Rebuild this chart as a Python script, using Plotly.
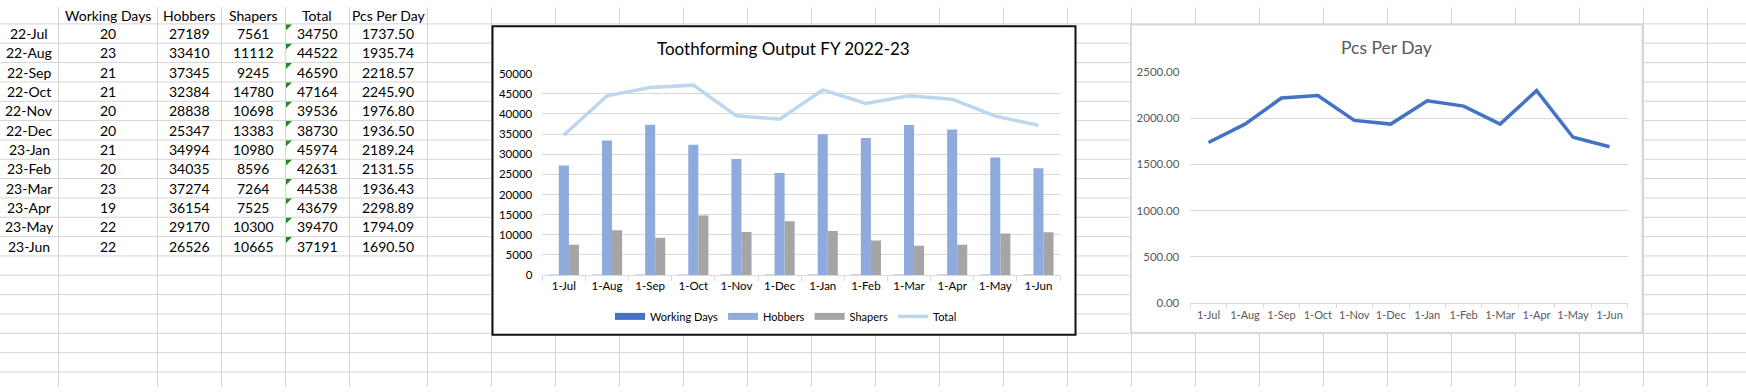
import plotly.graph_objects as go

# ---------------- data ----------------
row_labels = ["22-Jul", "22-Aug", "22-Sep", "22-Oct", "22-Nov", "22-Dec",
              "23-Jan", "23-Feb", "23-Mar", "23-Apr", "23-May", "23-Jun"]
months = ["1-Jul", "1-Aug", "1-Sep", "1-Oct", "1-Nov", "1-Dec",
          "1-Jan", "1-Feb", "1-Mar", "1-Apr", "1-May", "1-Jun"]
working_days = [20, 23, 21, 21, 20, 20, 21, 20, 23, 19, 22, 22]
hobbers = [27189, 33410, 37345, 32384, 28838, 25347, 34994, 34035, 37274, 36154, 29170, 26526]
shapers = [7561, 11112, 9245, 14780, 10698, 13383, 10980, 8596, 7264, 7525, 10300, 10665]
total = [34750, 44522, 46590, 47164, 39536, 38730, 45974, 42631, 44538, 43679, 39470, 37191]
pcs_per_day = [1737.50, 1935.74, 2218.57, 2245.90, 1976.80, 1936.50,
               2189.24, 2131.55, 1936.43, 2298.89, 1794.09, 1690.50]
headers = ["", "Working Days", "Hobbers", "Shapers", "Total", "Pcs Per Day"]

# ---------------- geometry helpers ----------------
W, H = 1746, 392
def px(x):
    return x / W
def py(y):
    return 1 - y / H

FONT = "Lato, Carlito, Calibri, sans-serif"
GRID = "#d4d4d4"

fig = go.Figure()

# ---------------- chart 1: bars + total line ----------------
fig.add_trace(go.Bar(x=months, y=working_days, name="Working Days",
                     marker=dict(color="#4472C4", line=dict(width=0)),
                     showlegend=False, xaxis="x", yaxis="y"))
fig.add_trace(go.Bar(x=months, y=hobbers, name="Hobbers",
                     marker=dict(color="#8FAADC", line=dict(width=0)),
                     showlegend=False, xaxis="x", yaxis="y"))
fig.add_trace(go.Bar(x=months, y=shapers, name="Shapers",
                     marker=dict(color="#A5A5A5", line=dict(width=0)),
                     showlegend=False, xaxis="x", yaxis="y"))
fig.add_trace(go.Scatter(x=months, y=total, name="Total", mode="lines",
                         line=dict(color="#BDD7EE", width=3.5),
                         showlegend=False, xaxis="x", yaxis="y"))

# legend entries (wide flat swatches like Excel)
for nm, col, wd in [("Working Days", "#4472C4", 7), ("Hobbers", "#8FAADC", 7),
                    ("Shapers", "#A5A5A5", 7), ("Total", "#BDD7EE", 3.5)]:
    fig.add_trace(go.Scatter(x=[None], y=[None], mode="lines", name=nm,
                             line=dict(color=col, width=wd),
                             xaxis="x", yaxis="y", hoverinfo="skip"))

# ---------------- chart 2: pcs per day ----------------
fig.add_trace(go.Scatter(x=months, y=pcs_per_day, name="Pcs Per Day", mode="lines",
                         line=dict(color="#4472C4", width=3.5),
                         showlegend=False, xaxis="x2", yaxis="y2"))

# ---------------- spreadsheet grid (decor) ----------------
shapes = []
col_lines = [58, 157, 221, 285, 349] + [427 + 64 * k for k in range(21)]
for cx in col_lines:
    shapes.append(dict(type="line", xref="paper", yref="paper", layer="below",
                       x0=px(cx + 0.5), x1=px(cx + 0.5), y0=0, y1=1,
                       line=dict(color=GRID, width=1)))
for k in range(19):
    ry = 17 + 20 * k
    shapes.append(dict(type="line", xref="paper", yref="paper", layer="below",
                       x0=0, x1=1, y0=py(ry + 0.5), y1=py(ry + 0.5),
                       line=dict(color=GRID, width=1)))

# green error triangles in Total column
for k in range(len(total)):
    top = 18 + 20 * k
    shapes.append(dict(type="path", xref="paper", yref="paper", layer="below",
                       path=f"M {px(286)} {py(top)} L {px(292)} {py(top)} L {px(286)} {py(top + 6)} Z",
                       fillcolor="#1E8C1E", line=dict(width=0)))

# chart 1 frame
shapes.append(dict(type="rect", xref="paper", yref="paper", layer="below",
                   x0=px(492.5), x1=px(1075.5), y0=py(339), y1=py(20),
                   fillcolor="white", line=dict(color="#111111", width=2)))
# chart 2 frame
shapes.append(dict(type="rect", xref="paper", yref="paper", layer="below",
                   x0=px(1131), x1=px(1642.5), y0=py(337), y1=py(18),
                   fillcolor="white", line=dict(color="#d9d9d9", width=2)))

# ---------------- table text ----------------
annotations = []
col_centers = [29, 107.5, 189, 253, 317, 388]
for c, htxt in enumerate(headers):
    if htxt:
        annotations.append(dict(text=htxt, x=px(col_centers[c]), y=py(9),
                                xref="paper", yref="paper", showarrow=False,
                                xanchor="center", yanchor="middle",
                                font=dict(family=FONT, size=14, color="#000000")))
for r in range(len(row_labels)):
    vals = [row_labels[r], str(working_days[r]), str(hobbers[r]), str(shapers[r]),
            str(total[r]), f"{pcs_per_day[r]:.2f}"]
    for c, v in enumerate(vals):
        annotations.append(dict(text=v, x=px(col_centers[c]), y=py(27.5 + 20 * r),
                                xref="paper", yref="paper", showarrow=False,
                                xanchor="center", yanchor="middle",
                                font=dict(family=FONT, size=14, color="#000000")))

# chart titles
annotations.append(dict(text="Toothforming Output FY 2022-23", x=px(783.5), y=py(42.5),
                        xref="paper", yref="paper", showarrow=False,
                        xanchor="center", yanchor="middle",
                        font=dict(family=FONT, size=17, color="#000000")))
annotations.append(dict(text="Pcs Per Day", x=px(1386.5), y=py(42),
                        xref="paper", yref="paper", showarrow=False,
                        xanchor="center", yanchor="middle",
                        font=dict(family=FONT, size=17.5, color="#595959")))

fig.update_layout(
    width=W, height=H,
    margin=dict(l=0, r=0, t=0, b=0),
    paper_bgcolor="white",
    plot_bgcolor="rgba(0,0,0,0)",
    font=dict(family=FONT, size=11.5, color="#000000"),
    barmode="group", bargap=0.3, bargroupgap=0,
    shapes=shapes, annotations=annotations,
    legend=dict(orientation="h", x=px(786), y=py(320), xanchor="center", yanchor="middle",
                font=dict(family=FONT, size=11, color="#000000"),
                bgcolor="rgba(0,0,0,0)", itemwidth=30, tracegroupgap=0),
    xaxis=dict(domain=[px(542.3), px(1060)], type="category", categoryorder="array",
               categoryarray=months, range=[-0.5, 11.5], tickson="boundaries",
               ticks="outside", ticklen=5, tickcolor="#d9d9d9", showline=True,
               linecolor="#d9d9d9", linewidth=1, showgrid=False, zeroline=False,
               tickangle=0, tickfont=dict(family=FONT, size=11.5, color="#000000"),
               fixedrange=True),
    yaxis=dict(domain=[py(277.3), py(69)], range=[0, 50000], tickmode="array",
               tickvals=list(range(0, 50001, 5000)), tickformat="d",
               showgrid=True, gridcolor="#d9d9d9", gridwidth=1, zeroline=False,
               showline=False, ticks="", ticklabelstandoff=9,
               tickfont=dict(family=FONT, size=11.5, color="#000000"),
               fixedrange=True),
    xaxis2=dict(domain=[px(1190.3), px(1627.7)], type="category", categoryorder="array",
                categoryarray=months, range=[-0.5, 11.5], tickson="boundaries",
                ticks="outside", ticklen=4, tickcolor="#d9d9d9", showline=True,
                linecolor="#d9d9d9", linewidth=1, showgrid=False, zeroline=False,
                tickangle=0, ticklabelstandoff=2,
                tickfont=dict(family=FONT, size=11, color="#595959"),
                anchor="y2", fixedrange=True),
    yaxis2=dict(domain=[py(306), py(67.3)], range=[0, 2500], tickmode="array",
                tickvals=[0, 500, 1000, 1500, 2000, 2500], tickformat=".2f",
                showgrid=True, gridcolor="#d9d9d9", gridwidth=1, zeroline=False,
                showline=False, ticks="", ticklabelstandoff=10,
                tickfont=dict(family=FONT, size=11.5, color="#595959"),
                anchor="x2", fixedrange=True),
)

fig.write_html("out.html", config={"displayModeBar": False},
               post_script="document.documentElement.style.margin='0px';"
                           "document.body.style.margin='0px';"
                           "document.body.style.overflow='hidden';")
